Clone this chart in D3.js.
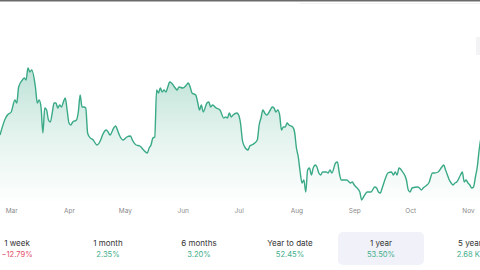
<!DOCTYPE html>
<html><head><meta charset="utf-8">
<script src="https://cdn.jsdelivr.net/npm/d3@7"></script>
<style>
html,body{margin:0;padding:0;background:#fff;}
svg{display:block;font-family:Inter,"Noto Sans",sans-serif;}
</style></head>
<body>
<svg id="c" width="480" height="270"></svg>
<script>
const dates = ["2023-02-23","2023-02-26","2023-02-27","2023-03-01","2023-03-03","2023-03-04","2023-03-05","2023-03-07","2023-03-08","2023-03-09","2023-03-10","2023-03-11","2023-03-12","2023-03-14","2023-03-15","2023-03-16","2023-03-17","2023-03-18","2023-03-19","2023-03-20","2023-03-21","2023-03-22","2023-03-23","2023-03-24","2023-03-25","2023-03-26","2023-03-27","2023-03-28","2023-03-29","2023-03-30","2023-03-31","2023-04-01","2023-04-02","2023-04-03","2023-04-05","2023-04-06","2023-04-07","2023-04-08","2023-04-09","2023-04-10","2023-04-11","2023-04-12","2023-04-14","2023-04-16","2023-04-18","2023-04-19","2023-04-21","2023-04-22","2023-04-23","2023-04-25","2023-04-26","2023-04-27","2023-04-28","2023-04-30","2023-05-02","2023-05-04","2023-05-05","2023-05-07","2023-05-09","2023-05-11","2023-05-13","2023-05-14","2023-05-15","2023-05-16","2023-05-17","2023-05-18","2023-05-19","2023-05-20","2023-05-21","2023-05-22","2023-05-23","2023-05-24","2023-05-25","2023-05-26","2023-05-28","2023-05-29","2023-05-30","2023-06-01","2023-06-03","2023-06-04","2023-06-05","2023-06-06","2023-06-08","2023-06-09","2023-06-10","2023-06-11","2023-06-12","2023-06-14","2023-06-15","2023-06-16","2023-06-17","2023-06-19","2023-06-21","2023-06-23","2023-06-24","2023-06-25","2023-06-26","2023-06-27","2023-06-28","2023-06-30","2023-07-01","2023-07-02","2023-07-03","2023-07-04","2023-07-06","2023-07-07","2023-07-09","2023-07-11","2023-07-12","2023-07-13","2023-07-14","2023-07-15","2023-07-16","2023-07-18","2023-07-19","2023-07-20","2023-07-21","2023-07-22","2023-07-23","2023-07-24","2023-07-25","2023-07-26","2023-07-27","2023-07-28","2023-07-30","2023-07-31","2023-08-01","2023-08-02","2023-08-03","2023-08-04","2023-08-05","2023-08-06","2023-08-07","2023-08-08","2023-08-09","2023-08-10","2023-08-11","2023-08-12","2023-08-13","2023-08-14","2023-08-15","2023-08-17","2023-08-18","2023-08-19","2023-08-20","2023-08-22","2023-08-23","2023-08-24","2023-08-25","2023-08-26","2023-08-28","2023-08-30","2023-08-31","2023-09-01","2023-09-02","2023-09-04","2023-09-05","2023-09-06","2023-09-08","2023-09-10","2023-09-12","2023-09-13","2023-09-14","2023-09-15","2023-09-16","2023-09-18","2023-09-19","2023-09-21","2023-09-22","2023-09-23","2023-09-24","2023-09-25","2023-09-27","2023-09-29","2023-09-30","2023-10-01","2023-10-02","2023-10-05","2023-10-06","2023-10-07","2023-10-08","2023-10-10","2023-10-11","2023-10-13","2023-10-14","2023-10-16","2023-10-18","2023-10-19","2023-10-20","2023-10-21","2023-10-22","2023-10-23","2023-10-24","2023-10-25","2023-10-26","2023-10-28","2023-10-29","2023-10-30","2023-10-31","2023-11-01","2023-11-02","2023-11-03","2023-11-04","2023-11-05","2023-11-06","2023-11-07","2023-11-08"];
const prices = [80,97,100,
  103,115,112,128,135,137,135,147,143,145,128,112,115,108,82,107,105,95,93,102,112,112,107,110,108,113,117,105,
  92,90,93,95,103,120,108,108,107,82,78,75,70,75,80,85,83,80,87,89,85,80,75,
  78,79,75,70,69,65,62,67,70,77,78,125,122,127,123,125,123,128,133,132,127,125,128,
  127,130,132,128,122,120,113,105,110,103,112,113,108,110,107,105,97,98,97,102,98,100,102,
  100,92,75,69,65,69,71,75,90,97,105,102,100,105,108,107,103,105,100,85,88,88,92,90,88,83,
  67,58,43,32,35,23,45,47,40,47,50,48,42,40,43,43,42,45,42,52,53,42,35,35,35,32,33,
  30,28,23,15,18,23,23,28,27,23,22,27,38,42,43,40,43,40,47,43,35,25,
  23,27,28,27,25,27,30,32,42,42,43,48,50,45,40,35,32,30,32,33,40,43,33,35,
  32,30,27,28,38,48,65,78];
const monthTicks = ["2023-03-01","2023-04-01","2023-05-01","2023-06-01","2023-07-01","2023-08-01","2023-09-01","2023-10-01","2023-11-01"];
const periodLabels = ["1 week","1 month","6 months","Year to date","1 year","5 years"];
const periodValues = ["−12.79%","2.35%","3.20%","52.45%","53.50%","2.68 K%"];
const periodUp = [false,true,true,true,true,true];
const selectedPeriod = "1 year";

const parse = d3.timeParse("%Y-%m-%d");
const n = Math.min(dates.length, prices.length);
const data = dates.slice(0,n).map((d,i)=>({date:parse(d), v:prices[i]}));

const svg = d3.select("#c");
const W = 480, H = 270;
const lineColor = "#3aa986";

const x = d3.scaleTime().domain([parse("2023-02-23"), parse("2023-11-08")]).range([0, 481]);
const y = d3.scaleLinear().domain([0,150]).range([215,65]);

// top frame line
svg.append("rect").attr("x",0).attr("y",0).attr("width",W).attr("height",1.5).attr("fill","#6a6a6a");
svg.append("rect").attr("x",300).attr("y",3).attr("width",180).attr("height",1).attr("fill","#f1f1f1");
svg.append("rect").attr("x",476).attr("y",37).attr("width",4).attr("height",18).attr("fill","#f3f3f5");

const defs = svg.append("defs");
const grad = defs.append("linearGradient").attr("id","g").attr("gradientUnits","userSpaceOnUse")
  .attr("x1",0).attr("x2",0).attr("y1",65).attr("y2",205);
grad.append("stop").attr("offset",0).attr("stop-color",lineColor).attr("stop-opacity",0.34);
grad.append("stop").attr("offset",0.5).attr("stop-color",lineColor).attr("stop-opacity",0.14);
grad.append("stop").attr("offset",1).attr("stop-color",lineColor).attr("stop-opacity",0);

const area = d3.area().x(d=>x(d.date)).y0(205).y1(d=>y(d.v)).curve(d3.curveMonotoneX);
const line = d3.line().x(d=>x(d.date)).y(d=>y(d.v)).curve(d3.curveMonotoneX);

svg.append("path").datum(data).attr("d",area).attr("fill","url(#g)");
svg.append("path").datum(data).attr("d",line).attr("fill","none")
  .attr("stroke",lineColor).attr("stroke-width",1.4).attr("stroke-linejoin","round");

const axis = d3.axisBottom(x).tickValues(monthTicks.map(parse)).tickFormat(d3.timeFormat("%b")).tickSize(0).tickPadding(0);
const ax = svg.append("g").attr("transform","translate(0,208)").call(axis);
ax.select(".domain").remove();
ax.selectAll("text").attr("fill","#8a8a8a").attr("font-size",6.5).attr("font-family","Inter,sans-serif");

// period stats
const px = d3.scalePoint().domain(periodLabels).range([17, 472]);
const selX = px(selectedPeriod);
svg.append("rect").attr("x",selX-43).attr("y",232).attr("width",86).attr("height",33).attr("rx",5)
  .attr("fill","#f1f2f9");
const g = svg.append("g");
g.selectAll("text.lab").data(periodLabels).join("text").attr("class","lab")
  .attr("x",d=>px(d)).attr("y",246).attr("text-anchor","middle")
  .attr("font-size",8).attr("fill","#333").text(d=>d);
g.selectAll("text.val").data(periodValues).join("text").attr("class","val")
  .attr("x",(d,i)=>px(periodLabels[i])).attr("y",257).attr("text-anchor","middle")
  .attr("font-size",7.6).attr("fill",(d,i)=>periodUp[i]?"#43ae8b":"#e4506a").text(d=>d);
</script>
</body></html>
